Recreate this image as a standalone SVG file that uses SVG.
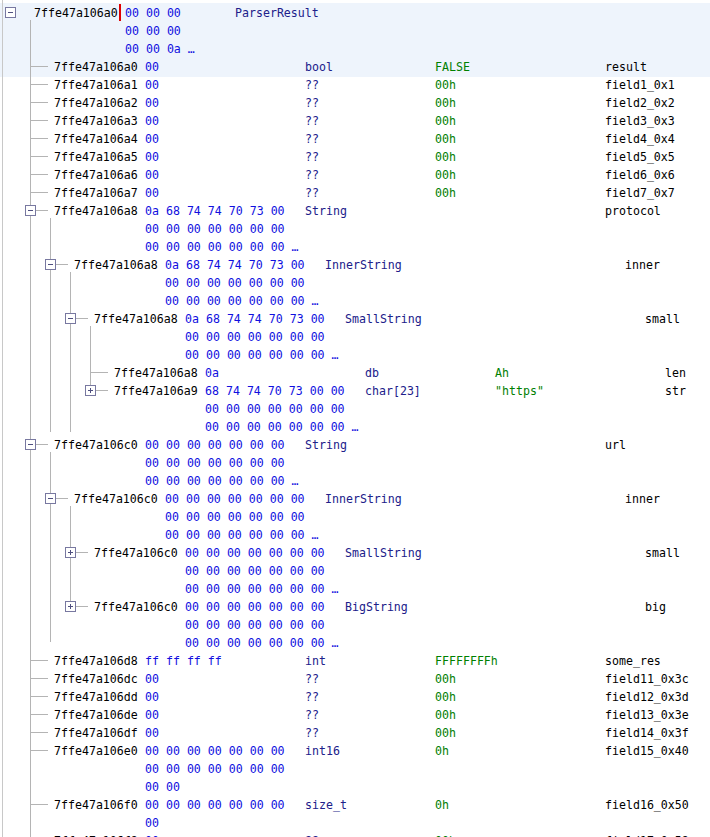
<svg xmlns="http://www.w3.org/2000/svg" width="710" height="837" viewBox="0 0 710 837">
<style>
text{font-family:"DejaVu Sans Mono","Liberation Mono",monospace;font-size:11.6px}
.a{fill:#000}.b{fill:#1010e0}.t{fill:#20208a}.v{fill:#008000}.n{fill:#000}
.l{stroke:#b4b4b4;stroke-width:1;fill:none}
.bx{fill:#fff;stroke:#7878a0;stroke-width:1}
.sg{stroke:#505080;stroke-width:1}
</style>
<rect width="710" height="837" fill="#fff"/>
<rect x="0" y="3" width="710" height="74" fill="#eef4fc"/>
<line x1="2.5" y1="0" x2="2.5" y2="837" stroke="#c8c8c8"/>
<g id="connectors">
<path class="l" d="M30.5 20V837M50.5 218V432M70.5 272V432M90.5 326V390M50.5 452V642M70.5 506V606"/>
<path class="l" d="M30 66.5H48M30 84.5H48M30 102.5H48M30 120.5H48M30 138.5H48M30 156.5H48M30 174.5H48M30 192.5H48M35 210.5H48M35 444.5H48M30 660.5H48M30 678.5H48M30 696.5H48M30 714.5H48M30 732.5H48M30 750.5H48M30 804.5H48M55 264.5H68M55 498.5H68M75 318.5H88M75 552.5H88M75 606.5H88M90 372.5H108M95 390.5H108"/>
</g>
<g id="boxes">
<rect class="bx" x="5.5" y="7.5" width="10" height="10"/><path class="sg" d="M8 12.5H13"/>
<rect class="bx" x="25.5" y="205.5" width="10" height="10"/><path class="sg" d="M28 210.5H33"/>
<rect class="bx" x="45.5" y="259.5" width="10" height="10"/><path class="sg" d="M48 264.5H53"/>
<rect class="bx" x="65.5" y="313.5" width="10" height="10"/><path class="sg" d="M68 318.5H73"/>
<rect class="bx" x="85.5" y="385.5" width="10" height="10"/><path class="sg" d="M88 390.5H93M90.5 388V393"/>
<rect class="bx" x="25.5" y="439.5" width="10" height="10"/><path class="sg" d="M28 444.5H33"/>
<rect class="bx" x="45.5" y="493.5" width="10" height="10"/><path class="sg" d="M48 498.5H53"/>
<rect class="bx" x="65.5" y="547.5" width="10" height="10"/><path class="sg" d="M68 552.5H73M70.5 550V555"/>
<rect class="bx" x="65.5" y="601.5" width="10" height="10"/><path class="sg" d="M68 606.5H73M70.5 604V609"/>
</g>
<rect x="119" y="4" width="2" height="17" fill="#e00000"/>
<g transform="translate(0,1)">
<g id="root">
<text x="34" y="16" class="a">7ffe47a106a0</text><text x="125" y="16" class="b">00 00 00</text><text x="235" y="16" class="t">ParserResult</text>
<text x="125" y="34" class="b">00 00 00</text>
<text x="125" y="52" class="b">00 00 0a …</text>
</g>
<g id="fields1">
<text x="54" y="70">7ffe47a106a0</text><text x="145" y="70" class="b">00</text><text x="305" y="70" class="t">bool</text><text x="435" y="70" class="v">FALSE</text><text x="605" y="70">result</text>
<text x="54" y="88">7ffe47a106a1</text><text x="145" y="88" class="b">00</text><text x="305" y="88" class="t">??</text><text x="435" y="88" class="v">00h</text><text x="605" y="88">field1_0x1</text>
<text x="54" y="106">7ffe47a106a2</text><text x="145" y="106" class="b">00</text><text x="305" y="106" class="t">??</text><text x="435" y="106" class="v">00h</text><text x="605" y="106">field2_0x2</text>
<text x="54" y="124">7ffe47a106a3</text><text x="145" y="124" class="b">00</text><text x="305" y="124" class="t">??</text><text x="435" y="124" class="v">00h</text><text x="605" y="124">field3_0x3</text>
<text x="54" y="142">7ffe47a106a4</text><text x="145" y="142" class="b">00</text><text x="305" y="142" class="t">??</text><text x="435" y="142" class="v">00h</text><text x="605" y="142">field4_0x4</text>
<text x="54" y="160">7ffe47a106a5</text><text x="145" y="160" class="b">00</text><text x="305" y="160" class="t">??</text><text x="435" y="160" class="v">00h</text><text x="605" y="160">field5_0x5</text>
<text x="54" y="178">7ffe47a106a6</text><text x="145" y="178" class="b">00</text><text x="305" y="178" class="t">??</text><text x="435" y="178" class="v">00h</text><text x="605" y="178">field6_0x6</text>
<text x="54" y="196">7ffe47a106a7</text><text x="145" y="196" class="b">00</text><text x="305" y="196" class="t">??</text><text x="435" y="196" class="v">00h</text><text x="605" y="196">field7_0x7</text>
</g>
<g id="protocol">
<text x="54" y="214">7ffe47a106a8</text><text x="145" y="214" class="b">0a 68 74 74 70 73 00</text><text x="305" y="214" class="t">String</text><text x="605" y="214">protocol</text>
<text x="145" y="232" class="b">00 00 00 00 00 00 00</text>
<text x="145" y="250" class="b">00 00 00 00 00 00 00 …</text>
<text x="74" y="268">7ffe47a106a8</text><text x="165" y="268" class="b">0a 68 74 74 70 73 00</text><text x="325" y="268" class="t">InnerString</text><text x="625" y="268">inner</text>
<text x="165" y="286" class="b">00 00 00 00 00 00 00</text>
<text x="165" y="304" class="b">00 00 00 00 00 00 00 …</text>
<text x="94" y="322">7ffe47a106a8</text><text x="185" y="322" class="b">0a 68 74 74 70 73 00</text><text x="345" y="322" class="t">SmallString</text><text x="645" y="322">small</text>
<text x="185" y="340" class="b">00 00 00 00 00 00 00</text>
<text x="185" y="358" class="b">00 00 00 00 00 00 00 …</text>
<text x="114" y="376">7ffe47a106a8</text><text x="205" y="376" class="b">0a</text><text x="365" y="376" class="t">db</text><text x="495" y="376" class="v">Ah</text><text x="665" y="376">len</text>
<text x="114" y="394">7ffe47a106a9</text><text x="205" y="394" class="b">68 74 74 70 73 00 00</text><text x="365" y="394" class="t">char[23]</text><text x="495" y="394" class="v">"https"</text><text x="665" y="394">str</text>
<text x="205" y="412" class="b">00 00 00 00 00 00 00</text>
<text x="205" y="430" class="b">00 00 00 00 00 00 00 …</text>
</g>
<g id="url">
<text x="54" y="448">7ffe47a106c0</text><text x="145" y="448" class="b">00 00 00 00 00 00 00</text><text x="305" y="448" class="t">String</text><text x="605" y="448">url</text>
<text x="145" y="466" class="b">00 00 00 00 00 00 00</text>
<text x="145" y="484" class="b">00 00 00 00 00 00 00 …</text>
<text x="74" y="502">7ffe47a106c0</text><text x="165" y="502" class="b">00 00 00 00 00 00 00</text><text x="325" y="502" class="t">InnerString</text><text x="625" y="502">inner</text>
<text x="165" y="520" class="b">00 00 00 00 00 00 00</text>
<text x="165" y="538" class="b">00 00 00 00 00 00 00 …</text>
<text x="94" y="556">7ffe47a106c0</text><text x="185" y="556" class="b">00 00 00 00 00 00 00</text><text x="345" y="556" class="t">SmallString</text><text x="645" y="556">small</text>
<text x="185" y="574" class="b">00 00 00 00 00 00 00</text>
<text x="185" y="592" class="b">00 00 00 00 00 00 00 …</text>
<text x="94" y="610">7ffe47a106c0</text><text x="185" y="610" class="b">00 00 00 00 00 00 00</text><text x="345" y="610" class="t">BigString</text><text x="645" y="610">big</text>
<text x="185" y="628" class="b">00 00 00 00 00 00 00</text>
<text x="185" y="646" class="b">00 00 00 00 00 00 00 …</text>
</g>
<g id="fields2">
<text x="54" y="664">7ffe47a106d8</text><text x="145" y="664" class="b">ff ff ff ff</text><text x="305" y="664" class="t">int</text><text x="435" y="664" class="v">FFFFFFFFh</text><text x="605" y="664">some_res</text>
<text x="54" y="682">7ffe47a106dc</text><text x="145" y="682" class="b">00</text><text x="305" y="682" class="t">??</text><text x="435" y="682" class="v">00h</text><text x="605" y="682">field11_0x3c</text>
<text x="54" y="700">7ffe47a106dd</text><text x="145" y="700" class="b">00</text><text x="305" y="700" class="t">??</text><text x="435" y="700" class="v">00h</text><text x="605" y="700">field12_0x3d</text>
<text x="54" y="718">7ffe47a106de</text><text x="145" y="718" class="b">00</text><text x="305" y="718" class="t">??</text><text x="435" y="718" class="v">00h</text><text x="605" y="718">field13_0x3e</text>
<text x="54" y="736">7ffe47a106df</text><text x="145" y="736" class="b">00</text><text x="305" y="736" class="t">??</text><text x="435" y="736" class="v">00h</text><text x="605" y="736">field14_0x3f</text>
<text x="54" y="754">7ffe47a106e0</text><text x="145" y="754" class="b">00 00 00 00 00 00 00</text><text x="305" y="754" class="t">int16</text><text x="435" y="754" class="v">0h</text><text x="605" y="754">field15_0x40</text>
<text x="145" y="772" class="b">00 00 00 00 00 00 00</text>
<text x="145" y="790" class="b">00 00</text>
<text x="54" y="808">7ffe47a106f0</text><text x="145" y="808" class="b">00 00 00 00 00 00 00</text><text x="305" y="808" class="t">size_t</text><text x="435" y="808" class="v">0h</text><text x="605" y="808">field16_0x50</text>
<text x="145" y="826" class="b">00</text>
<text x="54" y="844">7ffe47a106f8</text><text x="145" y="844" class="b">00</text><text x="305" y="844" class="t">??</text><text x="435" y="844" class="v">00h</text><text x="605" y="844">field17_0x58</text>
</g>
</g>
</svg>
